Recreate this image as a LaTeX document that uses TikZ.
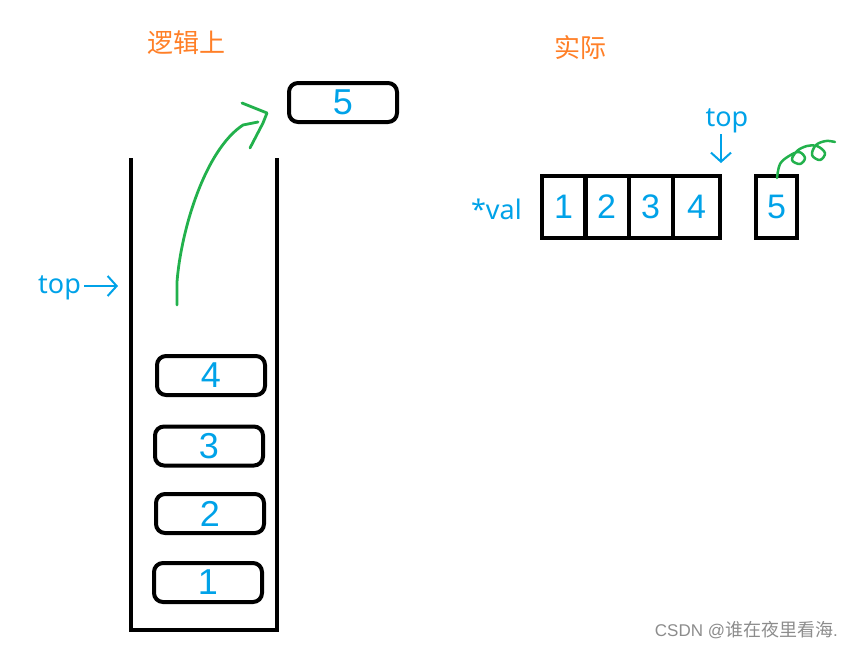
\documentclass[tikz,border=0pt]{standalone}
\usepackage{fontspec}
\setmainfont{Noto Sans}
\newfontfamily\cjk{Noto Sans CJK SC}
\newfontfamily\digits{Liberation Sans}
\usetikzlibrary{arrows.meta}
\definecolor{pblue}{RGB}{0,162,232}
\definecolor{porange}{RGB}{255,127,39}
\definecolor{pgreen}{RGB}{34,177,76}
\tikzset{
  slot/.style={draw=black, line width=4pt, rounded corners=9pt, minimum width=108pt, minimum height=39pt, inner sep=0pt, text=pblue, font=\digits\fontsize{36}{36}\selectfont},
  cell/.style={draw=black, line width=4pt, minimum width=44pt, minimum height=62pt, inner sep=0pt, text=pblue, font=\digits\fontsize{34}{34}\selectfont},
  lbl/.style={text=pblue, font=\fontsize{27}{27}\selectfont, inner sep=0pt},
  title/.style={text=porange, font=\cjk\fontsize{26}{26}\selectfont, inner sep=0pt},
  wall/.style={line width=4pt, line cap=rect},
  garrow/.style={draw=pgreen, line width=2.8pt, line cap=round, line join=round},
  barrow/.style={draw=pblue, line width=2pt, -{Straight Barb[length=9pt,width=20pt]}}
}
\begin{document}
\begin{tikzpicture}[x=1pt,y=-1pt]
\useasboundingbox (0,0) rectangle (852,649);
% titles
\node[title] (tl) at (186,43) {逻辑上};
\node[title] (tr) at (580,48) {实际};
% stack walls
\coordinate (wl) at (131,160);
\coordinate (wb1) at (131,630);
\coordinate (wb2) at (277,630);
\coordinate (wr) at (277,160);
\draw[wall] (wl) -- (wb1) -- (wb2) -- (wr);
% stack slots
\node[slot] (s4) at (211,375.5) {4};
\node[slot] (s3) at (209,446) {3};
\node[slot] (s2) at (210,513.5) {2};
\node[slot] (s1) at (208,582.5) {1};
\node[slot] (s5) at (343,102.5) {5};
% top pointer left
\node[lbl, anchor=west] (topl) at (38,288) {top};
\coordinate (topls) at (84,286);
\coordinate (topla) at (118,286);
\draw[barrow] (topls) -- (topla);
% green push arrow
\coordinate (gs) at (177,305);
\coordinate (ge) at (258,122);
\coordinate (gtip) at (267,113);
\draw[garrow] (gs) -- (177,282) .. controls (181,230) and (205,150) .. (243,125) -- (ge);
\draw[garrow] (242,103) -- (gtip) -- (263,123) -- (250,148);
% array
\node[cell] (c1) at (563.5,207) {1};
\node[cell] (c2) at (606.5,207) {2};
\node[cell] (c3) at (650.5,207) {3};
\node[cell, minimum width=47pt] (c4) at (696.5,207) {4};
\node[cell, minimum width=41pt] (c5) at (776.5,207) {5};
\node[lbl, anchor=east] (val) at (522,209) {*val};
\node[lbl] (topr) at (727,121) {top};
\coordinate (toprs) at (721,134);
\coordinate (toprb) at (721,163);
\draw[barrow] (toprs) -- (toprb);
% green squiggle
\coordinate (sq) at (777,178);
\draw[garrow, line width=2.5pt] plot[smooth, tension=0.6] coordinates {
  (777,178) (780,164) (789,156) (799,152) (805,158) (800,164) (792,160) (797,151)
  (807,146) (817,146) (825,153) (820,160) (812,155) (816,145) (826,141) (835,142)};
% watermark
\node[text=black!45, font=\digits\fontsize{17}{17}\selectfont, anchor=east, inner sep=0pt] (wm) at (838,630) {CSDN @{\cjk\fontsize{18}{18}\selectfont 谁在夜里看海}.};
\end{tikzpicture}
\end{document}
